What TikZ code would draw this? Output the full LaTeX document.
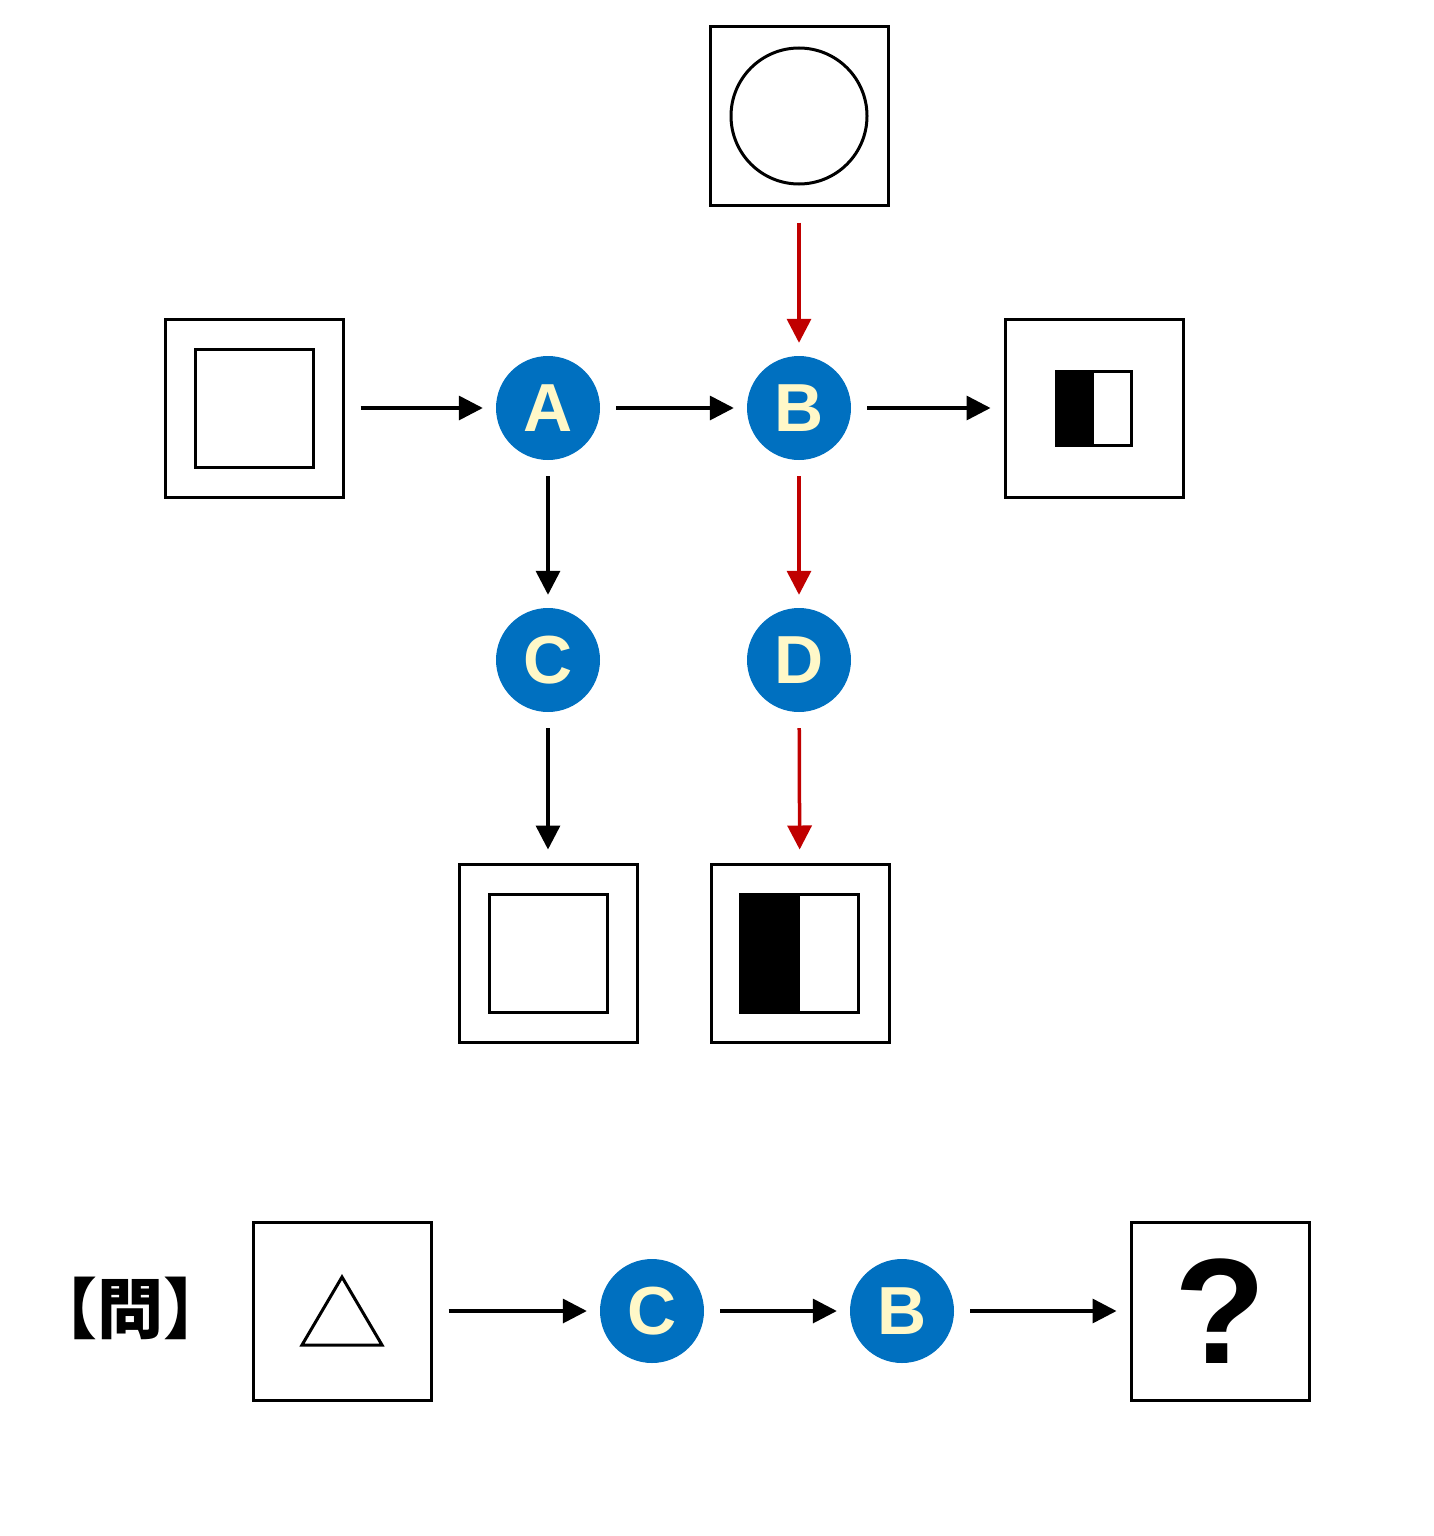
\documentclass[tikz,border=0pt]{standalone}
\usepackage{fontspec}
\setmainfont{Liberation Sans}
\newfontfamily\cjk{Noto Sans CJK JP}
\usetikzlibrary{arrows.meta}
\definecolor{cblue}{HTML}{0070C0}
\definecolor{cream}{HTML}{FFF8C8}
\definecolor{cred}{HTML}{C00000}
\begin{document}
\begin{tikzpicture}[x=1pt,y=-1pt,
 box/.style={draw=black,line width=3pt,minimum size=178pt,inner sep=0pt},
 inbox/.style={draw=black,line width=3pt,minimum size=118pt,inner sep=0pt},
 op/.style={circle,fill=cblue,minimum size=104pt,inner sep=0pt,text=cream,font=\fontsize{68}{68}\selectfont\bfseries},
 arr/.style={line width=3.5pt,-{Triangle[length=24pt,width=24pt]},shorten <=16pt,shorten >=13pt},
 rarr/.style={arr,draw=cred,-{Triangle[length=24pt,width=24pt,fill=cred]}}]
\useasboundingbox (0,0) rectangle (1434,1536);
% top row
\node[box] (top) at (799,116) {};
\node[circle,draw,line width=3pt,minimum size=136pt] (topc) at (799,116) {};
\node[box] (left) at (254,408) {};
\node[inbox] (lefti) at (254,408) {};
\node[op] (A) at (548,408) {A};
\node[op] (B) at (799,408) {B};
\node[op] (C) at (548,660) {C};
\node[op] (D) at (799,660) {D};
\node[box] (right) at (1094,408) {};
\fill (1056,371) rectangle (1094,445);
\node[draw,line width=3pt,minimum width=75pt,minimum height=74pt,inner sep=0pt] (righti) at (1093.5,408) {};
\node[box] (bl) at (548,953) {};
\node[inbox] (bli) at (548,953) {};
\node[box] (br) at (800,953) {};
\fill (740,894) rectangle (800,1012);
\node[inbox] (bri) at (799,953) {};
\draw[arr] (left) -- (A);
\draw[arr] (A) -- (B);
\draw[arr] (B) -- (right);
\draw[arr] (A) -- (C);
\draw[arr] (C) -- (bl);
\draw[rarr] (top) -- (B);
\draw[rarr] (B) -- (D);
\draw[rarr] (D) -- (br);
% question row
\node[font=\cjk\fontsize{66}{66}\selectfont\bfseries] (q) at (130,1308) {【問】};
\node[box] (tri) at (342,1311) {};
\draw[line width=3pt,line join=miter] (302,1345) -- (382,1345) -- (342,1277) -- cycle;
\node[op] (C2) at (652,1311) {C};
\node[op] (B2) at (902,1311) {B};
\node[box,font=\fontsize{150}{150}\selectfont\bfseries] (ans) at (1220,1311) {?};
\draw[arr] (tri) -- (C2);
\draw[arr] (C2) -- (B2);
\draw[arr] (B2) -- (ans);
\end{tikzpicture}
\end{document}
